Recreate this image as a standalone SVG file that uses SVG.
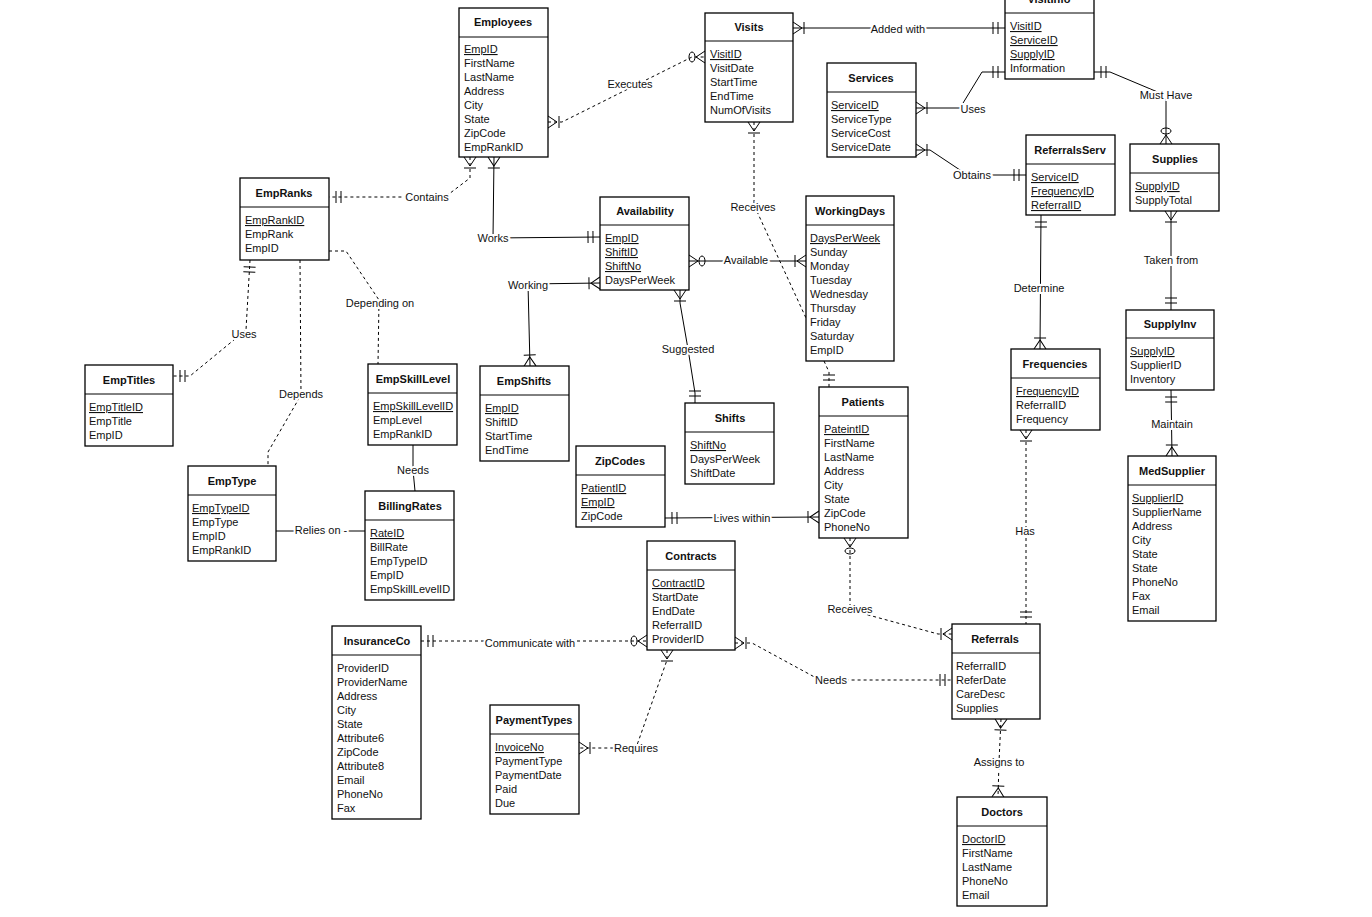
<svg xmlns="http://www.w3.org/2000/svg" width="1372" height="917" viewBox="0 0 1372 917">
<style>
text{font-family:"Liberation Sans",Arial,sans-serif;font-size:11px;fill:#111}
.t{font-weight:bold;text-anchor:middle}
.k{text-decoration:underline}
.box{fill:#fff;stroke:#000;stroke-width:1.3}
.c{fill:none;stroke:#000;stroke-width:1}
.d{stroke-dasharray:3,3}
.l{text-anchor:middle;stroke:#fff;stroke-width:4;paint-order:stroke}
.m{fill:none;stroke:#000;stroke-width:1;stroke-dasharray:none}
</style>
<defs>
<marker id="oo" markerUnits="userSpaceOnUse" orient="auto-start-reverse" refX="0" refY="0" markerWidth="30" markerHeight="30" overflow="visible"><path class="m" d="M-7,-6V6M-12,-6V6"/></marker>
<marker id="mn" markerUnits="userSpaceOnUse" orient="auto-start-reverse" refX="0" refY="0" markerWidth="30" markerHeight="30" overflow="visible"><path class="m" d="M0,-6L-9,0L0,6M-11,-6V6"/></marker>
<marker id="zm" markerUnits="userSpaceOnUse" orient="auto-start-reverse" refX="0" refY="0" markerWidth="30" markerHeight="30" overflow="visible"><path class="m" d="M0,-6L-9,0L0,6"/><ellipse class="m" cx="-13" cy="0" rx="3" ry="5" fill="#fff"/></marker>
</defs>
<rect width="1372" height="917" fill="#fff"/>
<g id="connectors">
<path class="c d" d="M548,122L562,122L692,57L705,57" marker-start="url(#mn)" marker-end="url(#zm)"/>
<text class="l" x="630" y="88">Executes</text>
<path class="c" d="M793,28L1005,28" marker-start="url(#mn)" marker-end="url(#oo)"/>
<text class="l" x="898" y="33">Added with</text>
<path class="c" d="M916,108L960,108L982,72L1005,72" marker-start="url(#mn)" marker-end="url(#oo)"/>
<text class="l" x="973" y="113">Uses</text>
<path class="c" d="M1094,72L1110,72L1160,93L1166,100L1166,144" marker-start="url(#oo)" marker-end="url(#zm)"/>
<text class="l" x="1166" y="99">Must Have</text>
<path class="c" d="M916,150L930,150L960,170L975,175L1026,175" marker-start="url(#mn)" marker-end="url(#oo)"/>
<text class="l" x="972" y="179">Obtains</text>
<path class="c d" d="M754,122L754,205L806,318" marker-start="url(#mn)"/>
<text class="l" x="753" y="211">Receives</text>
<path class="c d" d="M824,361L829,372L829,387" marker-end="url(#oo)"/>
<path class="c d" d="M470,157L470,178L445,197L329,197" marker-start="url(#mn)" marker-end="url(#oo)"/>
<text class="l" x="427" y="201">Contains</text>
<path class="c" d="M494,157L493,238L600,237" marker-start="url(#mn)" marker-end="url(#oo)"/>
<text class="l" x="493" y="242">Works</text>
<path class="c d" d="M250,260L246,330L190,376L173,376" marker-start="url(#oo)" marker-end="url(#oo)"/>
<text class="l" x="244" y="338">Uses</text>
<path class="c d" d="M300,260L301,395L268,452L268,466"/>
<text class="l" x="301" y="398">Depends</text>
<path class="c d" d="M329,251L346,251L379,300L378,364"/>
<text class="l" x="380" y="307">Depending on</text>
<path class="c" d="M413,445L413,470L415,491"/>
<text class="l" x="413" y="474">Needs</text>
<path class="c" d="M276,531L365,531"/>
<text class="l" x="321" y="534">Relies on -</text>
<path class="c" d="M600,283L528,284L530,366" marker-start="url(#mn)" marker-end="url(#mn)"/>
<text class="l" x="528" y="289">Working</text>
<path class="c" d="M689,261L806,261" marker-start="url(#zm)" marker-end="url(#mn)"/>
<text class="l" x="746" y="264">Available</text>
<path class="c" d="M680,290L680,303L688,349L695,393L695,403" marker-start="url(#mn)" marker-end="url(#oo)"/>
<text class="l" x="688" y="353">Suggested</text>
<path class="c" d="M665,518L819,517" marker-start="url(#oo)" marker-end="url(#mn)"/>
<text class="l" x="742" y="522">Lives within</text>
<path class="c d" d="M850,538L850,610L938,634L952,634" marker-start="url(#zm)" marker-end="url(#mn)"/>
<text class="l" x="850" y="613">Receives</text>
<path class="c d" d="M1026,430L1026,624" marker-start="url(#mn)" marker-end="url(#oo)"/>
<text class="l" x="1025" y="535">Has</text>
<path class="c" d="M1041,215L1040,349" marker-start="url(#oo)" marker-end="url(#mn)"/>
<text class="l" x="1039" y="292">Determine</text>
<path class="c" d="M1171,211L1171,310" marker-start="url(#mn)" marker-end="url(#oo)"/>
<text class="l" x="1171" y="264">Taken from</text>
<path class="c" d="M1171,390L1172,456" marker-start="url(#oo)" marker-end="url(#mn)"/>
<text class="l" x="1172" y="428">Maintain</text>
<path class="c d" d="M421,641L647,641" marker-start="url(#oo)" marker-end="url(#zm)"/>
<text class="l" x="530" y="647">Communicate with</text>
<path class="c d" d="M735,643L752,643L820,680L952,680" marker-start="url(#mn)" marker-end="url(#oo)"/>
<text class="l" x="831" y="684">Needs</text>
<path class="c d" d="M667,650L667,660L636,748L579,748" marker-start="url(#mn)" marker-end="url(#mn)"/>
<text class="l" x="636" y="752">Requires</text>
<path class="c d" d="M1001,719L999,762L998,797" marker-start="url(#mn)" marker-end="url(#mn)"/>
<text class="l" x="999" y="766">Assigns to</text>
</g>
<g id="Employees"><rect class="box" x="459" y="8" width="89" height="149"/><line class="c" x1="459" y1="37" x2="548" y2="37"/><text class="t" x="503" y="26">Employees</text><text x="464" y="53"><tspan class="k">EmpID</tspan><tspan x="464" dy="14">FirstName</tspan><tspan x="464" dy="14">LastName</tspan><tspan x="464" dy="14">Address</tspan><tspan x="464" dy="14">City</tspan><tspan x="464" dy="14">State</tspan><tspan x="464" dy="14">ZipCode</tspan><tspan x="464" dy="14">EmpRankID</tspan></text></g>
<g id="Visits"><rect class="box" x="705" y="13" width="88" height="109"/><line class="c" x1="705" y1="41" x2="793" y2="41"/><text class="t" x="749" y="31">Visits</text><text x="710" y="58"><tspan class="k">VisitID</tspan><tspan x="710" dy="14">VisitDate</tspan><tspan x="710" dy="14">StartTime</tspan><tspan x="710" dy="14">EndTime</tspan><tspan x="710" dy="14">NumOfVisits</tspan></text></g>
<g id="VisitInfo"><rect class="box" x="1005" y="-16" width="89" height="95"/><line class="c" x1="1005" y1="13" x2="1094" y2="13"/><text class="t" x="1049" y="3">VisitInfo</text><text x="1010" y="30"><tspan class="k">VisitID</tspan><tspan class="k" x="1010" dy="14">ServiceID</tspan><tspan class="k" x="1010" dy="14">SupplyID</tspan><tspan x="1010" dy="14">Information</tspan></text></g>
<g id="Services"><rect class="box" x="827" y="63" width="89" height="94"/><line class="c" x1="827" y1="92" x2="916" y2="92"/><text class="t" x="871" y="82">Services</text><text x="831" y="109"><tspan class="k">ServiceID</tspan><tspan x="831" dy="14">ServiceType</tspan><tspan x="831" dy="14">ServiceCost</tspan><tspan x="831" dy="14">ServiceDate</tspan></text></g>
<g id="ReferralsServ"><rect class="box" x="1026" y="135" width="89" height="80"/><line class="c" x1="1026" y1="164" x2="1115" y2="164"/><text class="t" x="1070" y="154">ReferralsServ</text><text x="1031" y="181"><tspan class="k">ServiceID</tspan><tspan class="k" x="1031" dy="14">FrequencyID</tspan><tspan class="k" x="1031" dy="14">ReferralID</tspan></text></g>
<g id="Supplies"><rect class="box" x="1130" y="144" width="89" height="67"/><line class="c" x1="1130" y1="173" x2="1219" y2="173"/><text class="t" x="1175" y="163">Supplies</text><text x="1135" y="190"><tspan class="k">SupplyID</tspan><tspan x="1135" dy="14">SupplyTotal</tspan></text></g>
<g id="EmpRanks"><rect class="box" x="240" y="178" width="89" height="82"/><line class="c" x1="240" y1="207" x2="329" y2="207"/><text class="t" x="284" y="197">EmpRanks</text><text x="245" y="224"><tspan class="k">EmpRankID</tspan><tspan x="245" dy="14">EmpRank</tspan><tspan x="245" dy="14">EmpID</tspan></text></g>
<g id="Availability"><rect class="box" x="600" y="197" width="89" height="93"/><line class="c" x1="600" y1="225" x2="689" y2="225"/><text class="t" x="645" y="215">Availability</text><text x="605" y="242"><tspan class="k">EmpID</tspan><tspan class="k" x="605" dy="14">ShiftID</tspan><tspan class="k" x="605" dy="14">ShiftNo</tspan><tspan x="605" dy="14">DaysPerWeek</tspan></text></g>
<g id="WorkingDays"><rect class="box" x="806" y="196" width="88" height="165"/><line class="c" x1="806" y1="225" x2="894" y2="225"/><text class="t" x="850" y="215">WorkingDays</text><text x="810" y="242"><tspan class="k">DaysPerWeek</tspan><tspan x="810" dy="14">Sunday</tspan><tspan x="810" dy="14">Monday</tspan><tspan x="810" dy="14">Tuesday</tspan><tspan x="810" dy="14">Wednesday</tspan><tspan x="810" dy="14">Thursday</tspan><tspan x="810" dy="14">Friday</tspan><tspan x="810" dy="14">Saturday</tspan><tspan x="810" dy="14">EmpID</tspan></text></g>
<g id="SupplyInv"><rect class="box" x="1126" y="310" width="88" height="80"/><line class="c" x1="1126" y1="338" x2="1214" y2="338"/><text class="t" x="1170" y="328">SupplyInv</text><text x="1130" y="355"><tspan class="k">SupplyID</tspan><tspan x="1130" dy="14">SupplierID</tspan><tspan x="1130" dy="14">Inventory</tspan></text></g>
<g id="Frequencies"><rect class="box" x="1011" y="349" width="89" height="81"/><line class="c" x1="1011" y1="378" x2="1100" y2="378"/><text class="t" x="1055" y="368">Frequencies</text><text x="1016" y="395"><tspan class="k">FrequencyID</tspan><tspan x="1016" dy="14">ReferralID</tspan><tspan x="1016" dy="14">Frequency</tspan></text></g>
<g id="EmpTitles"><rect class="box" x="85" y="365" width="88" height="81"/><line class="c" x1="85" y1="394" x2="173" y2="394"/><text class="t" x="129" y="384">EmpTitles</text><text x="89" y="411"><tspan class="k">EmpTitleID</tspan><tspan x="89" dy="14">EmpTitle</tspan><tspan x="89" dy="14">EmpID</tspan></text></g>
<g id="EmpSkillLevel"><rect class="box" x="368" y="364" width="89" height="81"/><line class="c" x1="368" y1="393" x2="457" y2="393"/><text class="t" x="413" y="383">EmpSkillLevel</text><text x="373" y="410"><tspan class="k">EmpSkillLevelID</tspan><tspan x="373" dy="14">EmpLevel</tspan><tspan x="373" dy="14">EmpRankID</tspan></text></g>
<g id="EmpShifts"><rect class="box" x="480" y="366" width="89" height="95"/><line class="c" x1="480" y1="395" x2="569" y2="395"/><text class="t" x="524" y="385">EmpShifts</text><text x="485" y="412"><tspan class="k">EmpID</tspan><tspan x="485" dy="14">ShiftID</tspan><tspan x="485" dy="14">StartTime</tspan><tspan x="485" dy="14">EndTime</tspan></text></g>
<g id="Shifts"><rect class="box" x="685" y="403" width="89" height="81"/><line class="c" x1="685" y1="432" x2="774" y2="432"/><text class="t" x="730" y="422">Shifts</text><text x="690" y="449"><tspan class="k">ShiftNo</tspan><tspan x="690" dy="14">DaysPerWeek</tspan><tspan x="690" dy="14">ShiftDate</tspan></text></g>
<g id="Patients"><rect class="box" x="819" y="387" width="89" height="151"/><line class="c" x1="819" y1="416" x2="908" y2="416"/><text class="t" x="863" y="406">Patients</text><text x="824" y="433"><tspan class="k">PateintID</tspan><tspan x="824" dy="14">FirstName</tspan><tspan x="824" dy="14">LastName</tspan><tspan x="824" dy="14">Address</tspan><tspan x="824" dy="14">City</tspan><tspan x="824" dy="14">State</tspan><tspan x="824" dy="14">ZipCode</tspan><tspan x="824" dy="14">PhoneNo</tspan></text></g>
<g id="MedSupplier"><rect class="box" x="1128" y="456" width="88" height="165"/><line class="c" x1="1128" y1="485" x2="1216" y2="485"/><text class="t" x="1172" y="475">MedSupplier</text><text x="1132" y="502"><tspan class="k">SupplierID</tspan><tspan x="1132" dy="14">SupplierName</tspan><tspan x="1132" dy="14">Address</tspan><tspan x="1132" dy="14">City</tspan><tspan x="1132" dy="14">State</tspan><tspan x="1132" dy="14">State</tspan><tspan x="1132" dy="14">PhoneNo</tspan><tspan x="1132" dy="14">Fax</tspan><tspan x="1132" dy="14">Email</tspan></text></g>
<g id="ZipCodes"><rect class="box" x="576" y="446" width="89" height="81"/><line class="c" x1="576" y1="475" x2="665" y2="475"/><text class="t" x="620" y="465">ZipCodes</text><text x="581" y="492"><tspan class="k">PatientID</tspan><tspan class="k" x="581" dy="14">EmpID</tspan><tspan x="581" dy="14">ZipCode</tspan></text></g>
<g id="EmpType"><rect class="box" x="188" y="466" width="88" height="95"/><line class="c" x1="188" y1="495" x2="276" y2="495"/><text class="t" x="232" y="485">EmpType</text><text x="192" y="512"><tspan class="k">EmpTypeID</tspan><tspan x="192" dy="14">EmpType</tspan><tspan x="192" dy="14">EmpID</tspan><tspan x="192" dy="14">EmpRankID</tspan></text></g>
<g id="BillingRates"><rect class="box" x="365" y="491" width="89" height="109"/><line class="c" x1="365" y1="520" x2="454" y2="520"/><text class="t" x="410" y="510">BillingRates</text><text x="370" y="537"><tspan class="k">RateID</tspan><tspan x="370" dy="14">BillRate</tspan><tspan x="370" dy="14">EmpTypeID</tspan><tspan x="370" dy="14">EmpID</tspan><tspan x="370" dy="14">EmpSkillLevelID</tspan></text></g>
<g id="Contracts"><rect class="box" x="647" y="541" width="88" height="109"/><line class="c" x1="647" y1="570" x2="735" y2="570"/><text class="t" x="691" y="560">Contracts</text><text x="652" y="587"><tspan class="k">ContractID</tspan><tspan x="652" dy="14">StartDate</tspan><tspan x="652" dy="14">EndDate</tspan><tspan x="652" dy="14">ReferralID</tspan><tspan x="652" dy="14">ProviderID</tspan></text></g>
<g id="InsuranceCo"><rect class="box" x="332" y="626" width="89" height="193"/><line class="c" x1="332" y1="655" x2="421" y2="655"/><text class="t" x="377" y="645">InsuranceCo</text><text x="337" y="672"><tspan>ProviderID</tspan><tspan x="337" dy="14">ProviderName</tspan><tspan x="337" dy="14">Address</tspan><tspan x="337" dy="14">City</tspan><tspan x="337" dy="14">State</tspan><tspan x="337" dy="14">Attribute6</tspan><tspan x="337" dy="14">ZipCode</tspan><tspan x="337" dy="14">Attribute8</tspan><tspan x="337" dy="14">Email</tspan><tspan x="337" dy="14">PhoneNo</tspan><tspan x="337" dy="14">Fax</tspan></text></g>
<g id="Referrals"><rect class="box" x="952" y="624" width="88" height="95"/><line class="c" x1="952" y1="653" x2="1040" y2="653"/><text class="t" x="995" y="643">Referrals</text><text x="956" y="670"><tspan>ReferralID</tspan><tspan x="956" dy="14">ReferDate</tspan><tspan x="956" dy="14">CareDesc</tspan><tspan x="956" dy="14">Supplies</tspan></text></g>
<g id="PaymentTypes"><rect class="box" x="490" y="705" width="89" height="109"/><line class="c" x1="490" y1="734" x2="579" y2="734"/><text class="t" x="534" y="724">PaymentTypes</text><text x="495" y="751"><tspan class="k">InvoiceNo</tspan><tspan x="495" dy="14">PaymentType</tspan><tspan x="495" dy="14">PaymentDate</tspan><tspan x="495" dy="14">Paid</tspan><tspan x="495" dy="14">Due</tspan></text></g>
<g id="Doctors"><rect class="box" x="957" y="797" width="90" height="109"/><line class="c" x1="957" y1="826" x2="1047" y2="826"/><text class="t" x="1002" y="816">Doctors</text><text x="962" y="843"><tspan class="k">DoctorID</tspan><tspan x="962" dy="14">FirstName</tspan><tspan x="962" dy="14">LastName</tspan><tspan x="962" dy="14">PhoneNo</tspan><tspan x="962" dy="14">Email</tspan></text></g>
</svg>
